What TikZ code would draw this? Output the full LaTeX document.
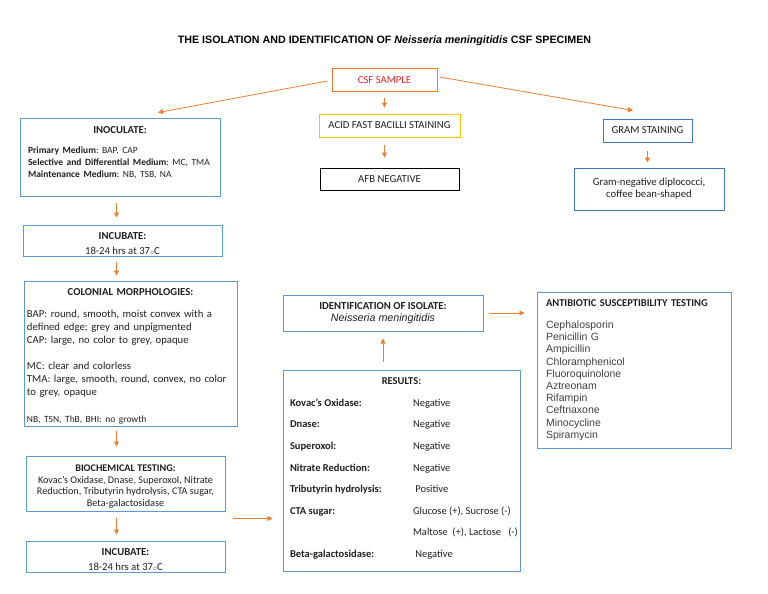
\documentclass[tikz,border=0pt]{standalone}
\usepackage{fontspec}
\setmainfont{Carlito}
\newfontfamily\arialfont{Liberation Sans}
\usetikzlibrary{positioning,arrows.meta}
\definecolor{csforange}{HTML}{ED7D31}
\definecolor{csfred}{HTML}{E8262B}
\definecolor{boxblue}{HTML}{5B9BD5}
\definecolor{gramblue}{HTML}{4472C4}
\definecolor{acidyellow}{HTML}{FFC000}
\definecolor{inktext}{HTML}{1F1F1F}
\definecolor{listgrey}{HTML}{404040}
\newcommand{\degsign}{{\fontsize{7}{7}\selectfont$\circ$}}
\newcommand{\smalltext}{\fontsize{9.5}{12.5}\selectfont}
\frenchspacing

\begin{document}
\begin{tikzpicture}[x=1pt, y=-1pt, font=\fontsize{10.7}{12.8}\selectfont]
    % Define styles
    \tikzstyle{box}=[rectangle, draw=boxblue, line width=1pt, inner sep=0pt, text=inktext]
    \tikzstyle{arrow}=[-{Triangle[length=5pt,width=5pt]}, draw=csforange, line width=0.8pt]

    \useasboundingbox (0,0) rectangle (768,594);

    % Title
    \node[text=black] (title) at (384.5,41) {\arialfont\bfseries THE ISOLATION AND IDENTIFICATION OF \textit{Neisseria meningitidis} CSF SPECIMEN};

    % Top row
    \node[box, draw=csforange, text=csfred, minimum width=105, minimum height=22] (csf) at (384.5,80) {CSF SAMPLE};
    \node[box, draw=acidyellow, minimum width=141, minimum height=23] (acid) at (389.5,125.5) {ACID FAST BACILLI STAINING};
    \node[box, draw=black, minimum width=139, minimum height=22] (afb) at (389.5,179) {AFB NEGATIVE};
    \node[box, draw=gramblue, minimum width=89, minimum height=23] (gram) at (647.5,130.5) {GRAM STAINING};
    \node[box, draw=gramblue, minimum width=150, minimum height=42, align=center] (gramneg) at (649,189) {Gram-negative diplococci,\\[-1pt]coffee bean-shaped};

    % Left column
    \node[box, minimum width=200, minimum height=78, text width=184, align=left] (inoc) at (120,157) {\makebox[184pt]{\bfseries INOCULATE:}\\[7pt]
        \mbox{\smalltext\textbf{Primary Medium}: BAP, CAP}\\[-0.5pt]
        \mbox{\smalltext\textbf{Selective and Differential Medium}: MC, TMA}\\[-0.5pt]
        \mbox{\smalltext\textbf{Maintenance Medium}: NB, TSB, NA}\rule[-10pt]{0pt}{0pt}};
    \node[box, minimum width=199, minimum height=31, align=center] (incub1) at (122.5,240.5) {\rule{0pt}{13pt}\textbf{INCUBATE:}\\[2pt]18-24 hrs at 37\degsign C};
    \node[box, minimum width=213, minimum height=145, text width=207, align=left, font=\fontsize{10.7}{13.1}\selectfont] (colon) at (130.5,353.5) {\rule{0pt}{12pt}\makebox[207pt]{\bfseries COLONIAL MORPHOLOGIES:}\\[9pt]
        BAP: round, smooth, moist convex with a\\
        defined edge; grey and unpigmented\\
        CAP: large, no color to grey, opaque\\[13.1pt]
        MC: clear and colorless\\
        TMA: large, smooth, round, convex, no color\\
        to grey, opaque\\[13pt]
        {\fontsize{9.5}{12}\selectfont NB, TSN, ThB, BHI: no growth}};
    \node[box, minimum width=199, minimum height=55, align=center, font=\fontsize{10.2}{12.6}\selectfont] (biochem) at (125.5,483.5) {\rule{0pt}{13pt}\textbf{BIOCHEMICAL TESTING:}\\[-1pt]
        Kovac’s Oxidase, Dnase, Superoxol, Nitrate\\[-1pt]
        Reduction, Tributyrin hydrolysis, CTA sugar,\\[-1pt]
        Beta-galactosidase};
    \node[box, minimum width=199, minimum height=31, align=center] (incub2) at (125.5,556.5) {\rule{0pt}{13pt}\textbf{INCUBATE:}\\[2pt]18-24 hrs at 37\degsign C};

    % Identification and results
    \node[box, minimum width=200, minimum height=36, align=center] (ident) at (383,313) {\textbf{IDENTIFICATION OF ISOLATE:}\\{\arialfont\itshape Neisseria meningitidis}};
    \node[box, minimum width=237, minimum height=201, font=\fontsize{10.5}{12.6}\selectfont] (results) at (401.5,470.5) {\begin{tabular}{@{}p{123pt}@{}p{100pt}@{}}
        \multicolumn{2}{c}{\textbf{RESULTS:}}\\[9pt]
        \textbf{Kovac’s Oxidase:} & Negative\\[9pt]
        \textbf{Dnase:} & Negative\\[9pt]
        \textbf{Superoxol:} & Negative\\[9pt]
        \textbf{Nitrate Reduction:} & Negative\\[9pt]
        \textbf{Tributyrin hydrolysis:} & \ Positive\\[9pt]
        \textbf{CTA sugar:} & \mbox{Glucose (+), Sucrose (-)}\\[9pt]
         & \mbox{Maltose\ \ (+), Lactose\ \ \ (-)}\\[9pt]
        \textbf{Beta-galactosidase:} & \ Negative\\[4pt]
    \end{tabular}};
    \node[box, minimum width=194, minimum height=156, text width=176, align=left, font=\arialfont\fontsize{10.5}{12.2}\selectfont, text=listgrey] (anti) at (634,370) {{\rmfamily\bfseries\fontsize{10.5}{12.6}\selectfont\color{inktext}ANTIBIOTIC SUSCEPTIBILITY TESTING}\\[9.8pt]
        Cephalosporin\\
        Penicillin G\\
        Ampicillin\\
        Chloramphenicol\\
        Fluoroquinolone\\
        Aztreonam\\
        Rifampin\\
        Ceftriaxone\\
        Minocycline\\
        Spiramycin};

    % Connections
    \coordinate (spine) at (116.5,0);
    \draw[arrow, shorten <=6pt, shorten >=6pt] (csf.south) -- (csf.south |- acid.north);
    \draw[arrow, shorten <=7pt, shorten >=10pt] (csf.south |- acid.south) -- (csf.south |- afb.north);
    \draw[arrow] ([shift={(2pt,3pt)}]csf.east) -- ([shift={(-14.5pt,8pt)}]gram.north);
    \draw[arrow] ([shift={(-4pt,-1pt)}]csf.west) -- ([shift={(38pt,5pt)}]inoc.north);
    \draw[arrow, shorten <=8pt, shorten >=5pt] (gram.south) -- (gram.south |- gramneg.north);
    \draw[arrow, shorten <=6pt, shorten >=7pt] (spine |- inoc.south) -- (spine |- incub1.north);
    \draw[arrow, shorten <=5pt, shorten >=5pt] (spine |- incub1.south) -- (spine |- colon.north);
    \draw[arrow, shorten <=4pt, shorten >=9pt] (spine |- colon.south) -- (spine |- biochem.north);
    \draw[arrow, shorten <=6pt, shorten >=6pt] (spine |- biochem.south) -- (spine |- incub2.north);
    \coordinate (bioout) at ([shift={(7pt,-7pt)}]biochem.south east);
    \draw[arrow, shorten >=10pt] (bioout) -- (bioout -| results.west);
    \draw[arrow, shorten <=8pt, shorten >=7pt] (ident.south |- results.north) -- (ident.south);
    \draw[arrow, shorten <=6pt, shorten >=12pt] (ident.east) -- (ident.east -| anti.west);
\end{tikzpicture}
\end{document}
